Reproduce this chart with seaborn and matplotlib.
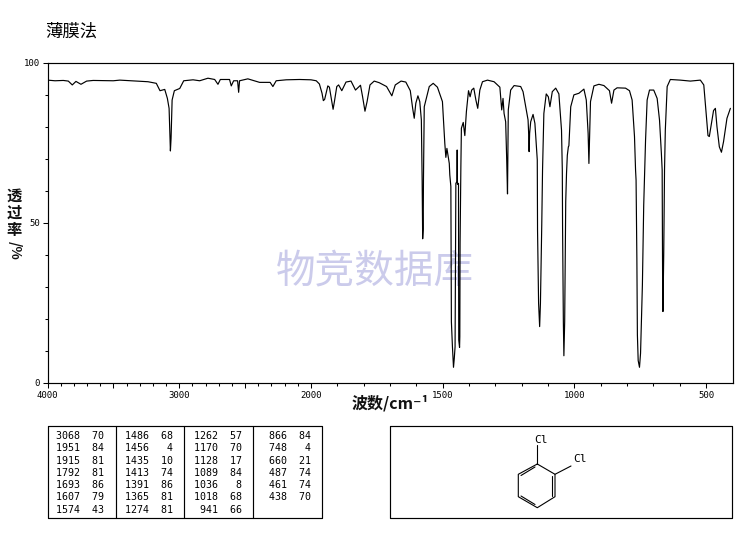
import numpy as np
import seaborn as sns
import matplotlib.pyplot as plt

# spectrum, high to low wavenumber
wavenumber = [
    4000, 3943, 3880, 3842, 3812, 3784, 3746, 3703, 3653, 3501, 3451, 3325, 3237, 3174, 3146, 3110, 3090, 3077, 3070, 3067, 3062, 3054, 3037, 2996,
    2966, 2895, 2845, 2782, 2731, 2706, 2688, 2618, 2605, 2587, 2557, 2549, 2542, 2479, 2390, 2310, 2289, 2264, 2188, 2087,
    2000, 1980, 1968, 1958, 1953, 1948, 1936, 1930, 1922, 1916, 1911, 1902, 1895, 1883, 1867, 1848, 1831, 1812, 1804, 1795, 1787, 1776, 1760, 1741, 1713, 1693, 1680, 1658, 1640, 1623, 1614, 1608, 1602, 1594, 1587, 1581,
    1578, 1576, 1574, 1573, 1570, 1551, 1536, 1520, 1501, 1492, 1488, 1484, 1475, 1473, 1469, 1467, 1463, 1459, 1456, 1453, 1450, 1446, 1445, 1444, 1440, 1439, 1436, 1435, 1434,
    1431, 1429, 1422, 1416, 1410, 1402, 1396, 1390, 1382, 1374, 1367, 1359, 1349, 1330, 1305, 1283, 1276, 1271, 1267, 1261, 1257, 1254,
    1251, 1242, 1229, 1204, 1195, 1185, 1176, 1174, 1172, 1170, 1166, 1157, 1150, 1141, 1140, 1136, 1132, 1129, 1124, 1121, 1116, 1107, 1099, 1093, 1084, 1071, 1059, 1049,
    1046, 1045, 1042, 1040, 1037, 1033, 1030, 1027, 1023, 1021, 1014, 1002, 983, 964, 955, 948, 945, 939, 926, 907, 888, 867, 859, 850, 838, 806, 791, 781, 772,
    768, 766, 763, 761, 758, 753, 749, 746, 742, 737, 733, 730, 724, 715, 699, 686, 677, 670, 667, 665, 664, 661, 658, 655, 648, 636, 598, 560, 522, 509, 501, 493, 488, 482, 472, 465, 459, 450, 442, 434, 421, 408,
]
transmittance = [
    94.5, 94.3, 94.4, 94.2, 93.0, 94.1, 93.2, 94.2, 94.4, 94.3, 94.5, 94.2, 94.0, 93.5, 91.2, 91.6, 88.8, 85.7, 76.3, 72.4, 76.3, 88.3, 91.2, 91.9,
    94.3, 94.6, 94.3, 95.1, 94.7, 93.2, 94.7, 94.7, 92.7, 94.3, 94.3, 90.7, 94.3, 94.9, 93.8, 93.8, 92.5, 94.3, 94.6, 94.7,
    94.6, 94.3, 93.3, 90.4, 88.1, 88.5, 92.7, 92.3, 88.3, 85.4, 87.8, 92.5, 93.0, 91.2, 93.9, 94.2, 91.4, 92.9, 89.3, 84.8, 87.8, 93.0, 94.2, 93.7, 92.5, 89.6, 93.0, 94.2, 93.9, 91.2, 85.7, 82.6, 87.3, 89.6, 87.8, 82.1,
    63.3, 45.0, 48.0, 63.3, 86.2, 92.5, 93.5, 92.3, 87.8, 74.8, 70.4, 73.2, 68.5, 64.9, 61.3, 19.1, 11.3, 4.9, 7.7, 11.3, 62.3, 62.8, 72.7, 62.0, 62.3, 13.4, 11.1, 14.5, 43.6,
    67.5, 79.5, 81.3, 77.2, 84.7, 91.2, 89.3, 91.4, 92.0, 88.3, 85.7, 91.4, 94.0, 94.5, 94.0, 92.3, 85.2, 88.8, 84.1, 81.5, 69.6, 59.0,
    85.2, 91.4, 92.8, 92.5, 90.9, 86.2, 82.1, 78.4, 72.2, 77.9, 81.5, 83.8, 81.0, 69.6, 47.7, 24.9, 17.6, 24.9, 49.3, 66.5, 84.1, 90.2, 89.3, 86.2, 90.9, 92.0, 90.2, 78.9,
    66.5, 48.8, 19.1, 8.5, 19.1, 56.6, 65.4, 71.0, 73.7, 74.0, 86.2, 89.9, 90.4, 91.7, 88.3, 77.9, 68.5, 87.8, 92.7, 93.2, 92.8, 91.2, 87.3, 91.4, 92.1, 92.0, 91.2, 88.3, 76.9,
    66.5, 63.3, 38.9, 15.0, 7.0, 4.9, 9.3, 18.1, 30.6, 55.5, 66.5, 75.8, 88.3, 91.4, 91.4, 88.8, 82.0, 71.7, 66.5, 26.9, 22.3, 40.5, 66.5, 78.9, 92.5, 94.7, 94.5, 94.2, 94.5, 93.0, 85.2, 77.2, 76.9, 80.0, 85.0, 85.7, 80.0, 73.7, 72.0, 75.3, 82.6, 85.7,
]

# peak table, one list per box
peak_col1 = ["3068  70", "1951  84", "1915  81", "1792  81", "1693  86", "1607  79", "1574  43"]
peak_col2 = ["1486  68", "1456   4", "1435  10", "1413  74", "1391  86", "1365  81", "1274  81"]
peak_col3 = ["1262  57", "1170  70", "1128  17", "1089  84", "1036   8", "1018  68", " 941  66"]
peak_col4 = [" 866  84", " 748   4", " 660  21", " 487  74", " 461  74", " 438  70"]

x_labelled = [4000, 3000, 2000, 1500, 1000, 500]
x_long = [4000, 3500, 3000, 2500, 2000, 1500, 1000, 500]
y_labelled = [0, 50, 100]

# structure sketch, figure pixels
ring_x = [537.3, 555, 555, 537.3, 518.3, 518.3, 537.3]
ring_y = [464, 474.3, 496.7, 507.7, 496.7, 474.3, 464]


def stretch(w):
    # the wavenumber axis runs at double scale below 2000
    w = np.asarray(w, dtype=float)
    return np.where(w >= 2000, w, 2000 - (2000 - w) * 2)


def unstretch(v):
    v = np.asarray(v, dtype=float)
    return np.where(v >= 2000, v, 2000 - (2000 - v) / 2)


def main():
    sns.set_theme(style="ticks")
    cjk = ["Noto Sans CJK SC", "DejaVu Sans"]
    plt.rcParams["font.family"] = cjk

    fig = plt.figure(figsize=(7.48, 5.39), dpi=100)
    ax = fig.add_axes([47.5 / 748, 1 - 383 / 539, 685 / 748, 320.5 / 539])
    ax.set_xscale("function", functions=(stretch, unstretch))

    sns.lineplot(x=wavenumber, y=transmittance, sort=False, estimator=None, color="black", linewidth=0.85, ax=ax, zorder=3)

    ax.set_xlim(4000, 400)
    ax.set_ylim(0, 100)
    ax.set_xticks(x_long)
    ax.set_xticklabels([str(v) if v in x_labelled else "" for v in x_long], family="DejaVu Sans Mono", fontsize=6.5)
    ax.set_xticks(np.arange(500, 4000, 100), minor=True)
    ax.set_yticks(y_labelled)
    ax.set_yticklabels([str(v) for v in y_labelled], family="DejaVu Sans Mono", fontsize=6.5)
    ax.set_yticks(np.arange(0, 101, 10), minor=True)
    ax.tick_params(axis="both", which="major", length=3.5, width=0.75, color="black", pad=2, labelcolor="black")
    ax.tick_params(axis="both", which="minor", length=2, width=0.75, color="black")
    for spine in ax.spines.values():
        spine.set_visible(True)
        spine.set_linewidth(0.85)
        spine.set_color("black")
    ax.set_xlabel("")
    ax.set_ylabel("")

    ax.text(0.4775, 0.348, "物竞数据库", transform=ax.transAxes, ha="center", va="center", fontsize=28.5, color="#cbcbeb", zorder=1)

    # overlay in pixel coordinates for the texts and boxes around the plot
    page = fig.add_axes([0, 0, 1, 1], facecolor="none")
    page.set_xlim(0, 748)
    page.set_ylim(539, 0)
    page.axis("off")

    page.text(45.5, 32, "薄膜法", fontsize=12.5, ha="left", va="center", color="black")
    page.text(352, 403, "波数/cm⁻¹", fontsize=11.5, fontweight="bold", ha="left", va="center", color="#111111")
    for ch, y in zip("透过率", [196, 213, 230.5]):
        page.text(14.5, y, ch, fontsize=11, fontweight="bold", ha="center", va="center", color="#111111")
    page.text(14.5, 250, "/%", fontsize=10, fontweight="bold", rotation=270, ha="center", va="center", color="#111111")

    # peak table
    page.plot([48, 322, 322, 48, 48], [426, 426, 518, 518, 426], color="black", lw=0.85)
    for x in [116.5, 184.5, 253.5]:
        page.plot([x, x], [426, 518], color="black", lw=0.85)
    rows = [435.7, 448, 460.5, 473, 484.5, 497, 510]
    for x, col in zip([56.5, 125, 194, 263], [peak_col1, peak_col2, peak_col3, peak_col4]):
        for y, label in zip(rows, col):
            page.text(x, y, label, family="DejaVu Sans Mono", fontsize=7.2, ha="left", va="center", color="black")

    # structure box
    page.plot([390.5, 732, 732, 390.5, 390.5], [426, 426, 518, 518, 426], color="black", lw=0.85)
    page.plot(ring_x, ring_y, color="black", lw=0.8)
    page.plot([537.3, 537.3], [464, 445], color="black", lw=0.8)
    page.plot([555, 571], [474.3, 466], color="black", lw=0.8)
    page.plot([535, 521], [467, 475.5], color="black", lw=0.8)
    page.plot([552.5, 552.5], [476, 495.5], color="black", lw=0.8)
    page.plot([521, 535], [496, 504.5], color="black", lw=0.8)
    page.text(541, 440, "Cl", family="DejaVu Sans Mono", fontsize=8, ha="center", va="center", color="black")
    page.text(580, 459, "Cl", family="DejaVu Sans Mono", fontsize=8, ha="center", va="center", color="black")

    fig.savefig("out.png", dpi=100, facecolor="white")


if __name__ == "__main__":
    main()
